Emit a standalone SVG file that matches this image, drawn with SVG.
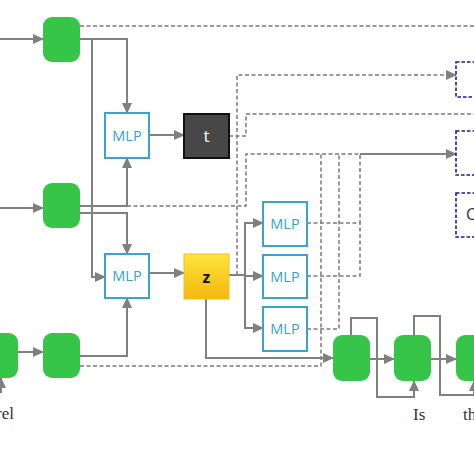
<svg xmlns="http://www.w3.org/2000/svg" width="474" height="474" viewBox="0 0 474 474">
<defs>
<marker id="ah" markerWidth="11" markerHeight="10" refX="10" refY="5" orient="auto" markerUnits="userSpaceOnUse"><path d="M0,0 L11,5 L0,10 z" fill="#808080"/></marker>
<linearGradient id="gold" x1="0" y1="0" x2="0" y2="1"><stop offset="0" stop-color="#fde43c"/><stop offset="1" stop-color="#f5b70c"/></linearGradient>
<style>
.g{fill:#37c549;}
.mlp{fill:#fff;stroke:#3aa3cf;stroke-width:2;}
.mt{font-family:"Open Sans","DejaVu Sans",sans-serif;font-size:14.5px;fill:#3a9fc9;text-anchor:middle;}
.s{fill:none;stroke:#808080;stroke-width:2;}
.d{fill:none;stroke:#7a7a7a;stroke-width:1.5;stroke-dasharray:4 2.5;}
.nb{fill:#fff;stroke:#1c1c8c;stroke-width:1.6;stroke-dasharray:3.5 2;}
.w{font-family:"Liberation Serif","DejaVu Serif",serif;font-size:17px;fill:#333;}
</style>
</defs>
<rect width="474" height="474" fill="#fff"/>
<g id="connectors">
<path class="d" d="M80,26 H474"/>
<path class="d" d="M229,136 H246 V114 H474"/>
<path class="d" d="M237,275 V75 H456" marker-end="url(#ah)"/>
<path class="d" d="M127,206 H246 V154 H360"/>
<path class="d" d="M307,223 H360 V154"/>
<path class="d" d="M307,276 H360 V223"/>
<path class="d" d="M307,329 H339 V154"/>
<path class="d" d="M80,366 H321 V154"/>
<path class="s" d="M360,154 H456" marker-end="url(#ah)"/>
<path class="s" d="M0,39 H43" marker-end="url(#ah)"/>
<path class="s" d="M0,208 H43" marker-end="url(#ah)"/>
<path class="s" d="M18,352 H43" marker-end="url(#ah)"/>
<path class="s" d="M1,393 V378" marker-end="url(#ah)"/>
<path class="s" d="M80,39 H127 V113" marker-end="url(#ah)"/>
<path class="s" d="M92,39 V277 H105" marker-end="url(#ah)"/>
<path class="s" d="M80,206 H127 V158" marker-end="url(#ah)"/>
<path class="s" d="M80,213 H127 V254" marker-end="url(#ah)"/>
<path class="s" d="M80,356 H127 V298" marker-end="url(#ah)"/>
<path class="s" d="M149,135 H184" marker-end="url(#ah)"/>
<path class="s" d="M150,273 H184" marker-end="url(#ah)"/>
<path class="s" d="M229,275 H245"/>
<path class="s" d="M245,275 V223 H263" marker-end="url(#ah)"/>
<path class="s" d="M245,276 H263" marker-end="url(#ah)"/>
<path class="s" d="M245,275 V328 H263" marker-end="url(#ah)"/>
<path class="s" d="M206,299 V358 H333" marker-end="url(#ah)"/>
<path class="s" d="M370,359 H394" marker-end="url(#ah)"/>
<path class="s" d="M431,359 H456" marker-end="url(#ah)"/>
<path class="s" d="M351,335 V318 H377 V397 H414 V381" marker-end="url(#ah)"/>
<path class="s" d="M414,335 V316 H440 V395 H474 V381" marker-end="url(#ah)"/>
</g>
<g id="n1"><rect class="g" x="43" y="17" width="37" height="45" rx="9"/></g>
<g id="n2"><rect class="g" x="43" y="183" width="37" height="45" rx="9"/></g>
<g id="n3"><rect class="g" x="-19" y="333" width="37" height="45" rx="9"/></g>
<g id="n4"><rect class="g" x="43" y="333" width="37" height="45" rx="9"/></g>
<g id="n5"><rect class="g" x="333" y="335" width="37" height="46" rx="9"/></g>
<g id="n6"><rect class="g" x="394" y="335" width="37" height="46" rx="9"/></g>
<g id="n7"><rect class="g" x="456" y="335" width="37" height="46" rx="9"/></g>
<g id="mlp1"><rect class="mlp" x="105" y="113" width="44" height="45"/><text class="mt" x="127" y="141">MLP</text></g>
<g id="mlp2"><rect class="mlp" x="105" y="254" width="44" height="44"/><text class="mt" x="127" y="281">MLP</text></g>
<g id="mlp3"><rect class="mlp" x="263" y="202" width="44" height="44"/><text class="mt" x="285" y="229">MLP</text></g>
<g id="mlp4"><rect class="mlp" x="263" y="255" width="44" height="43"/><text class="mt" x="285" y="282">MLP</text></g>
<g id="mlp5"><rect class="mlp" x="263" y="307" width="44" height="44"/><text class="mt" x="285" y="334">MLP</text></g>
<g id="t"><rect x="184" y="114" width="45" height="44" fill="#474747" stroke="#111" stroke-width="2"/><text x="206.5" y="142" font-family="'Open Sans','DejaVu Sans',sans-serif" font-size="17" fill="#fff" text-anchor="middle">t</text></g>
<g id="z"><rect x="184" y="254" width="45" height="45" fill="url(#gold)" stroke="#f2c21a" stroke-width="1"/><text x="206.5" y="283" font-family="'Open Sans','DejaVu Sans',sans-serif" font-size="16" font-weight="bold" fill="#111" text-anchor="middle">z</text></g>
<g id="boxA"><rect class="nb" x="456" y="62" width="40" height="35"/></g>
<g id="boxB"><rect class="nb" x="456" y="131" width="40" height="44"/></g>
<g id="boxC"><rect class="nb" x="456" y="193" width="40" height="44"/><text x="466" y="220" font-family="'Open Sans','DejaVu Sans',sans-serif" font-size="16" fill="#333">C</text></g>
<g id="labels">
<text class="w" x="-4" y="419">rel</text>
<text class="w" x="413" y="420">Is</text>
<text class="w" x="463" y="420">th</text>
</g>
</svg>
